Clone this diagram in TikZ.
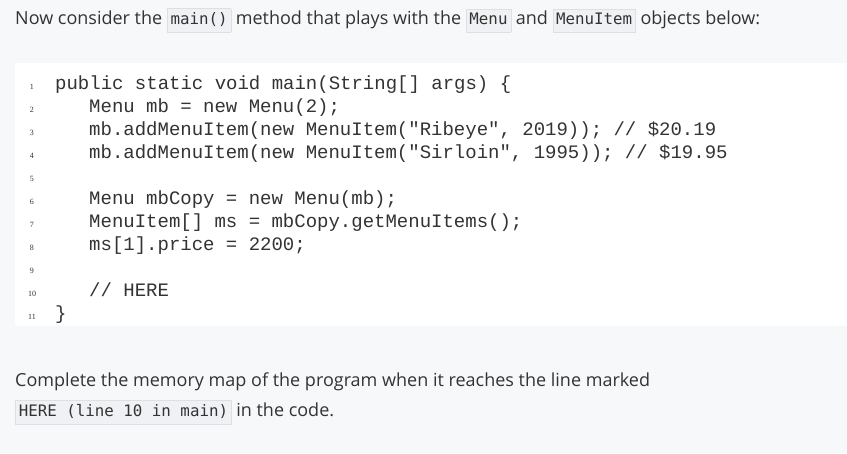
\documentclass[tikz,border=0pt]{standalone}
\usepackage{fontspec}
\setmainfont{Open Sans}
\newfontfamily\codefont{Liberation Mono}
\newfontfamily\inlinefont{DejaVu Sans Mono}
\newfontfamily\numfont{Liberation Serif}
\definecolor{bg}{HTML}{F7F8FA}
\definecolor{txt}{HTML}{333333}
\definecolor{cbg}{HTML}{F0F1F4}
\definecolor{cbd}{HTML}{DDDFE3}
\newcommand{\ic}[1]{{\setlength{\fboxsep}{3pt}\setlength{\fboxrule}{0.6pt}\fcolorbox{cbd}{cbg}{\inlinefont\fontsize{15.8}{17}\selectfont\strut #1}}}
\begin{document}
\begin{tikzpicture}[x=1pt,y=-1pt,
  prose/.style={anchor=base west,inner sep=0pt,text=txt,font=\fontsize{18}{20}\selectfont},
  code/.style={anchor=base west,inner sep=0pt,text=txt,font=\codefont\fontsize{19}{20}\selectfont},
  lnum/.style={anchor=base,inner sep=0pt,text=txt,font=\numfont\fontsize{8}{9}\selectfont}]
\fill[bg] (0,0) rectangle (847,453);
\useasboundingbox (0,0) rectangle (847,453);
\fill[white] (15,63) rectangle (847,326);
\node[prose] (t1) at (15,24) {Now consider the \ic{main()} method that plays with the \ic{Menu} and \ic{MenuItem} objects below:};
\foreach \i/\y in {1/89,2/112,3/135,4/158,5/181,6/204,7/227,8/250,9/273,10/296,11/319}{
  \node[lnum] (n\i) at (32,\y) {\i};}
\node[code] (c1) at (55,89) {public static void main(String[] args) \{};
\node[code] (c2) at (89,112) {Menu mb = new Menu(2);};
\node[code] (c3) at (89,135) {mb.addMenuItem(new MenuItem("Ribeye", 2019)); // \$20.19};
\node[code] (c4) at (89,158) {mb.addMenuItem(new MenuItem("Sirloin", 1995)); // \$19.95};
\node[code] (c6) at (89,204) {Menu mbCopy = new Menu(mb);};
\node[code] (c7) at (89,227) {MenuItem[] ms = mbCopy.getMenuItems();};
\node[code] (c8) at (89,250) {ms[1].price = 2200;};
\node[code] (c10) at (89,296) {// HERE};
\node[code] (c11) at (55,319) {\}};
\node[prose] (t2) at (15,386) {Complete the memory map of the program when it reaches the line marked};
\node[prose] (t3) at (15,416) {\ic{HERE (line 10 in main)} in the code.};
\end{tikzpicture}
\end{document}
